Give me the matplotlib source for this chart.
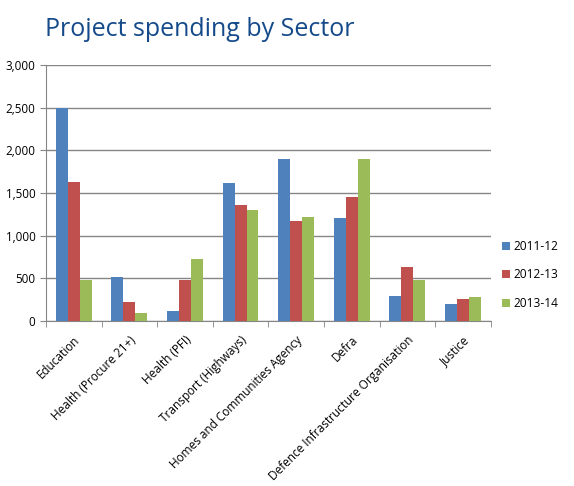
import numpy as np
import matplotlib.pyplot as plt
from matplotlib.ticker import FuncFormatter, FixedLocator

sectors = ['Education', 'Health (Procure 21+)', 'Health (PFI)', 'Transport (Highways)',
           'Homes and Communities Agency', 'Defra', 'Defence Infrastructure Organisation', 'Justice']
years = ['2011-12', '2012-13', '2013-14']
spend_2011 = [2500, 515, 115, 1620, 1900, 1210, 295, 200]
spend_2012 = [1630, 225, 480, 1360, 1175, 1455, 635, 260]
spend_2013 = [480, 95, 725, 1300, 1220, 1900, 480, 280]
colors = ['#4F81BD', '#C0504D', '#9BBB59']

plt.rcParams['font.family'] = ['Open Sans', 'DejaVu Sans']

fig = plt.figure(figsize=(5.74, 4.86), dpi=100)
ax = fig.add_axes([0.080, 0.3395, 0.775, 0.5265])

x = np.arange(len(sectors))
w = 0.215
for i, (vals, lab) in enumerate(zip([spend_2011, spend_2012, spend_2013], years)):
    ax.bar(x + (i - 1) * w, vals, w, color=colors[i], label=lab, zorder=3)

ax.set_xlim(-0.5, len(sectors) - 0.5)
ax.set_ylim(0, 3000)
ax.set_yticks(range(0, 3001, 500))
ax.yaxis.set_major_formatter(FuncFormatter(lambda v, p: f'{int(v):,}'))
ax.set_xticks(x)
ax.set_xticklabels(sectors, rotation=45, ha='right', rotation_mode='anchor', fontsize=8.5)
ax.tick_params(axis='x', length=0, pad=9)
ax.xaxis.set_minor_locator(FixedLocator(np.arange(-0.5, len(sectors), 1)))
ax.tick_params(axis='x', which='minor', length=4, color='#868686')
ax.tick_params(axis='y', labelsize=8.4, length=4, color='#868686')
ax.grid(axis='y', color='#868686', linewidth=1, zorder=0)
for s in ['top', 'right']:
    ax.spines[s].set_visible(False)
for s in ['left', 'bottom']:
    ax.spines[s].set_color('#868686')

ax.legend(loc='center left', bbox_to_anchor=(1.0, 0.18), frameon=False, fontsize=8.6,
          handlelength=0.7, handleheight=0.7, labelspacing=1.3, handletextpad=0.3)

fig.text(0.078, 0.94, 'Project spending by Sector', fontsize=18, color='#154A8A',
         ha='left', va='center')

fig.savefig('out.png', dpi=100)
